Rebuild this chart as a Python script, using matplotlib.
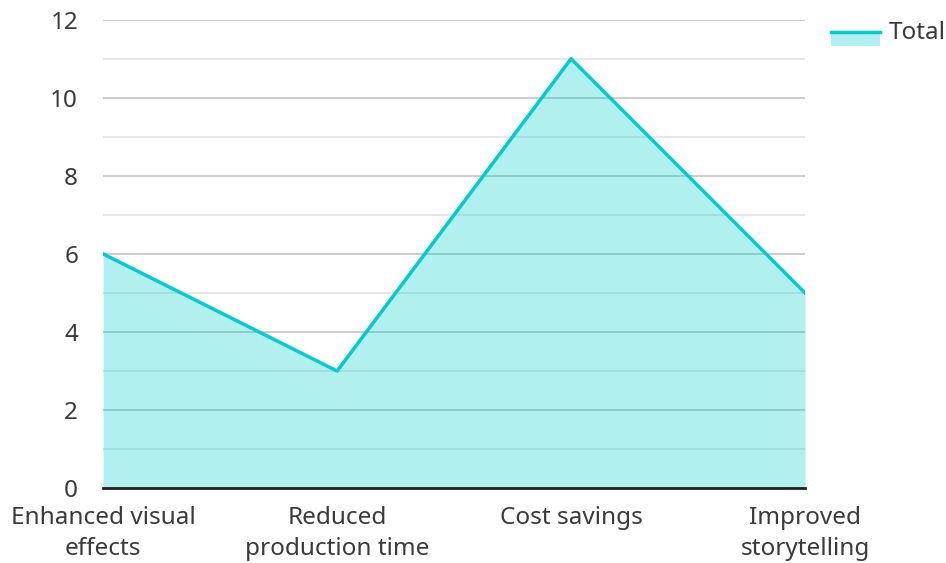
import matplotlib.pyplot as plt
import numpy as np

plt.rcParams['font.family'] = ['Noto Sans', 'DejaVu Sans']

categories = ["Enhanced visual\neffects", "Reduced\nproduction time",
              "Cost savings", "Improved\nstorytelling"]
totals = [6, 3, 11, 5]

teal = "#00cccc"

fig = plt.figure(figsize=(9.46, 5.63), dpi=100)
ax = fig.add_axes([0.109, 0.133, 0.742, 0.832])

x = np.arange(len(categories))
ax.fill_between(x, 0, totals, color=teal, alpha=0.3, linewidth=0, zorder=2)
ax.plot(x, totals, color=teal, linewidth=2.5, zorder=3)

ax.set_xlim(x[0], x[-1])
ax.set_ylim(0, 12)
ax.set_yticks(np.arange(0, 13, 2))
ax.set_yticks(np.arange(1, 13, 2), minor=True)
ax.grid(True, which="major", axis="y", color="#c4c4c4", linewidth=1.2, zorder=1)
ax.grid(True, which="minor", axis="y", color="#e3e3e3", linewidth=1.2, zorder=1)
ax.set_axisbelow(True)

ax.set_xticks(x)
ax.set_xticklabels(categories, linespacing=1.4)
ax.tick_params(axis="both", which="both", length=0, labelsize=17.5, colors="#3a3a3a")
ax.tick_params(axis="y", pad=18)
ax.tick_params(axis="x", pad=13)

for side in ("top", "right", "left"):
    ax.spines[side].set_visible(False)
ax.spines["bottom"].set_color("#222222")
ax.spines["bottom"].set_linewidth(2)
ax.spines["bottom"].set_zorder(4)

# legend: line over a filled patch
lx0, lx1 = 0.878, 0.930
ly = 0.943
fig.patches.append(plt.Rectangle((lx0, ly - 0.024), lx1 - lx0, 0.024,
                                 transform=fig.transFigure, color=teal,
                                 alpha=0.3, linewidth=0))
fig.lines.append(plt.Line2D([lx0, lx1], [ly, ly], transform=fig.transFigure,
                            color=teal, linewidth=2.5))
fig.text(0.940, 0.941, "Total", fontsize=17.5, color="#3a3a3a", va="center")

fig.savefig("out.png", dpi=100)
